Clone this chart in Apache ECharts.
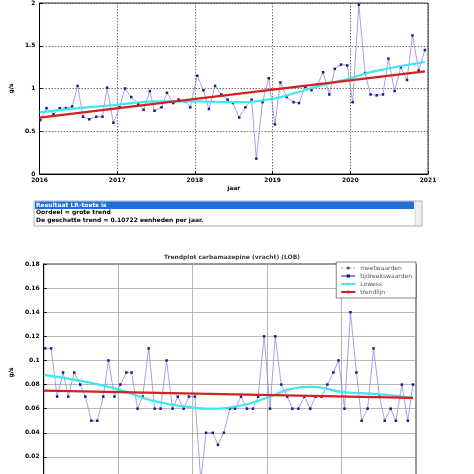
<!DOCTYPE html>
<html>
<head>
<meta charset="utf-8" />
<title>trendplot</title>
<script src="https://cdn.jsdelivr.net/npm/echarts@6/dist/echarts.min.js"></script>
<style>
  html, body { margin: 0; padding: 0; background: #fff; overflow: hidden; }
  #chart { width: 474px; height: 490px; }
</style>
</head>
<body>
<div id="chart"></div>
<script>
// bovenste plot: [jaar, g/s]
var topMeas = [
  [2016.01,0.63],[2016.09,0.77],[2016.18,0.70],[2016.26,0.77],[2016.34,0.77],[2016.42,0.79],[2016.49,1.03],[2016.56,0.67],[2016.64,0.64],[2016.73,0.67],[2016.81,0.67],[2016.87,1.01],
  [2016.95,0.60],[2017.03,0.78],[2017.10,1.00],[2017.18,0.90],[2017.27,0.82],[2017.34,0.75],[2017.42,0.97],[2017.48,0.74],[2017.57,0.78],[2017.64,0.95],[2017.72,0.83],[2017.79,0.87],
  [2017.88,0.85],[2017.94,0.78],[2018.03,1.15],[2018.11,0.98],[2018.18,0.76],[2018.26,1.03],[2018.34,0.93],[2018.42,0.87],[2018.49,0.83],[2018.57,0.66],[2018.65,0.78],[2018.73,0.87],
  [2018.79,0.18],[2018.87,0.84],[2018.95,1.12],
  [2019.03,0.58],[2019.10,1.07],[2019.18,0.90],[2019.27,0.84],[2019.34,0.83],[2019.42,1.02],[2019.50,0.98],[2019.58,1.05],[2019.65,1.19],[2019.73,0.93],[2019.80,1.23],[2019.88,1.28],
  [2019.96,1.27],[2020.03,0.84],[2020.11,1.98],[2020.19,1.18],[2020.26,0.93],[2020.34,0.92],[2020.42,0.93],[2020.49,1.35],[2020.57,0.97],[2020.65,1.25],[2020.73,1.10],[2020.80,1.62],[2020.88,1.21],[2020.96,1.45]
];
var topLowess = [[2016,0.72],[2016.5,0.77],[2017,0.81],[2017.5,0.85],[2018,0.85],[2018.5,0.84],[2019,0.88],[2019.3,0.95],[2019.6,1.03],[2020,1.12],[2020.3,1.20],[2020.96,1.31]];
var topTrend = [[2016,0.66],[2020.96,1.20]];

// onderste plot: carbamazepine
var botMeas = [
  [2016.02,0.11],[2016.10,0.11],[2016.18,0.07],[2016.26,0.09],[2016.33,0.07],[2016.41,0.09],[2016.49,0.08],[2016.56,0.07],[2016.64,0.05],[2016.72,0.05],[2016.80,0.07],[2016.87,0.10],
  [2016.95,0.07],[2017.03,0.08],[2017.11,0.09],[2017.18,0.09],[2017.26,0.06],[2017.33,0.07],[2017.41,0.11],[2017.49,0.06],[2017.57,0.06],[2017.65,0.10],[2017.73,0.06],[2017.80,0.07],
  [2017.88,0.06],[2017.95,0.07],[2018.03,0.07],[2018.11,0.00],[2018.18,0.04],[2018.27,0.04],[2018.34,0.03],[2018.42,0.04],[2018.50,0.06],[2018.57,0.06],[2018.65,0.07],[2018.73,0.06],
  [2018.81,0.06],[2018.88,0.07],[2018.96,0.12],[2019.04,0.06],[2019.11,0.12],[2019.19,0.08],[2019.27,0.07],[2019.34,0.06],[2019.42,0.06],[2019.50,0.07],[2019.58,0.06],[2019.65,0.07],
  [2019.73,0.07],[2019.81,0.08],[2019.89,0.09],[2019.96,0.10],[2020.04,0.06],[2020.12,0.14],[2020.20,0.09],[2020.27,0.05],[2020.35,0.06],[2020.43,0.11],[2020.51,0.07],[2020.58,0.05],
  [2020.66,0.06],[2020.73,0.05],[2020.81,0.08],[2020.89,0.05],[2020.96,0.08]
];
var botLowess = [[2016,0.088],[2016.5,0.083],[2017,0.076],[2017.5,0.066],[2018,0.061],[2018.2,0.060],[2018.6,0.062],[2019,0.069],[2019.3,0.076],[2019.6,0.078],[2020,0.074],[2020.5,0.072],[2020.96,0.069]];
var botTrend = [[2016,0.075],[2020.96,0.069]];

var resultLines = ['Resultaat LR-toets is', 'Oordeel = grote trend', 'De geschatte trend = 0.10722 eenheden per jaar.'];

var chart = echarts.init(document.getElementById('chart'));
var lbl = { fontSize: 6, fontWeight: 'bold', color: '#000', fontFamily: 'DejaVu Sans' };

function measSeries(x, y, data) {
  return { type: 'line', xAxisIndex: x, yAxisIndex: y, data: data, name: x ? 'tijdreekswaarden' : undefined,
    symbol: 'rect', symbolSize: 2.5, itemStyle: { color: '#1a1a8c' },
    lineStyle: { color: '#8c8cdc', width: 0.8 }, animation: false, z: 2 };
}
function smooth(x, y, data, name, color, w) {
  return { type: 'line', xAxisIndex: x, yAxisIndex: y, data: data, name: name, smooth: true, showSymbol: false,
    symbol: 'none', lineStyle: { color: color, width: w }, itemStyle: { color: color }, animation: false, z: 3 };
}

chart.setOption({
  backgroundColor: '#fff',
  title: { text: 'Trendplot carbamazepine (vracht) (LOB)', left: 227, top: 249, textAlign: 'center',
    textStyle: { fontSize: 6, fontWeight: 'bold', fontFamily: 'DejaVu Sans' } },
  legend: {
    right: 58, top: 262, orient: 'vertical', itemWidth: 14, itemHeight: 4, itemGap: 2,
    backgroundColor: '#fff', borderColor: '#333', borderWidth: 0.6, padding: [3, 4],
    textStyle: { fontSize: 6, fontFamily: 'DejaVu Sans' },
    data: ['meetwaarden', 'tijdreekswaarden', 'Lowess', 'trendlijn']
  },
  grid: [
    { left: 39, top: 1, width: 389, height: 173, show: true, borderColor: '#000', borderWidth: 0.8 },
    { left: 38, top: 264, width: 378, height: 217, show: true, borderColor: '#000', borderWidth: 0.8 }
  ],
  xAxis: [
    { type: 'value', gridIndex: 0, min: 2016, max: 2021, interval: 1, name: 'jaar', nameLocation: 'middle', nameGap: 11,
      nameTextStyle: lbl, axisLabel: Object.assign({ margin: 3, formatter: function (v) { return String(v); } }, lbl),
      axisTick: { inside: true, length: 3 }, axisLine: { lineStyle: { color: '#000' } },
      splitLine: { lineStyle: { color: '#333', type: [1.5, 1.5], width: 0.7 } } },
    { type: 'value', gridIndex: 1, min: 2016, max: 2021, interval: 1,
      axisLabel: { show: false }, axisTick: { inside: true, length: 3 }, axisLine: { lineStyle: { color: '#000' } },
      splitLine: { lineStyle: { color: '#999', width: 0.7 } } }
  ],
  yAxis: [
    { type: 'value', gridIndex: 0, min: 0, max: 2, interval: 0.5, name: 'g/s', nameLocation: 'middle', nameGap: 18,
      nameTextStyle: lbl, axisLabel: Object.assign({ margin: 4 }, lbl),
      axisTick: { inside: true, length: 3 }, axisLine: { lineStyle: { color: '#000' } },
      splitLine: { lineStyle: { color: '#333', type: [1.5, 1.5], width: 0.7 } } },
    { type: 'value', gridIndex: 1, min: 0, max: 0.18, interval: 0.02, name: 'g/s', nameLocation: 'middle', nameGap: 20,
      nameTextStyle: lbl, axisLabel: Object.assign({ margin: 4 }, lbl),
      axisTick: { inside: true, length: 3 }, axisLine: { lineStyle: { color: '#000' } },
      splitLine: { lineStyle: { color: '#999', width: 0.7 } } }
  ],
  graphic: [
    { type: 'rect', shape: { x: 34, y: 201, width: 388, height: 25 }, style: { fill: '#fff', stroke: '#aab', lineWidth: 1 } },
    { type: 'rect', shape: { x: 35, y: 201.5, width: 379, height: 7.5 }, style: { fill: '#1e6fd8' } },
    { type: 'rect', shape: { x: 415, y: 201.5, width: 6.5, height: 24 }, style: { fill: '#eee', stroke: '#bbb', lineWidth: 0.5 } },
    { type: 'text', x: 36, y: 202, style: { text: resultLines[0], fill: '#fff', font: 'bold 6px DejaVu Sans' } },
    { type: 'text', x: 36, y: 209.5, style: { text: resultLines[1], fill: '#000', font: 'bold 6px DejaVu Sans' } },
    { type: 'text', x: 36, y: 217, style: { text: resultLines[2], fill: '#000', font: 'bold 6px DejaVu Sans' } }
  ],
  series: [
    measSeries(0, 0, topMeas),
    smooth(0, 0, topLowess, undefined, '#3ee8ee', 2.2),
    smooth(0, 0, topTrend, undefined, '#d42020', 2.2),
    { type: 'line', xAxisIndex: 1, yAxisIndex: 1, name: 'meetwaarden', data: [], symbol: 'circle', symbolSize: 2,
      itemStyle: { color: '#555' }, lineStyle: { color: '#ccc', width: 0.6, type: 'dotted' } },
    measSeries(1, 1, botMeas),
    smooth(1, 1, botLowess, 'Lowess', '#3ee8ee', 2.2),
    smooth(1, 1, botTrend, 'trendlijn', '#d42020', 2.2)
  ]
});
</script>
</body>
</html>
